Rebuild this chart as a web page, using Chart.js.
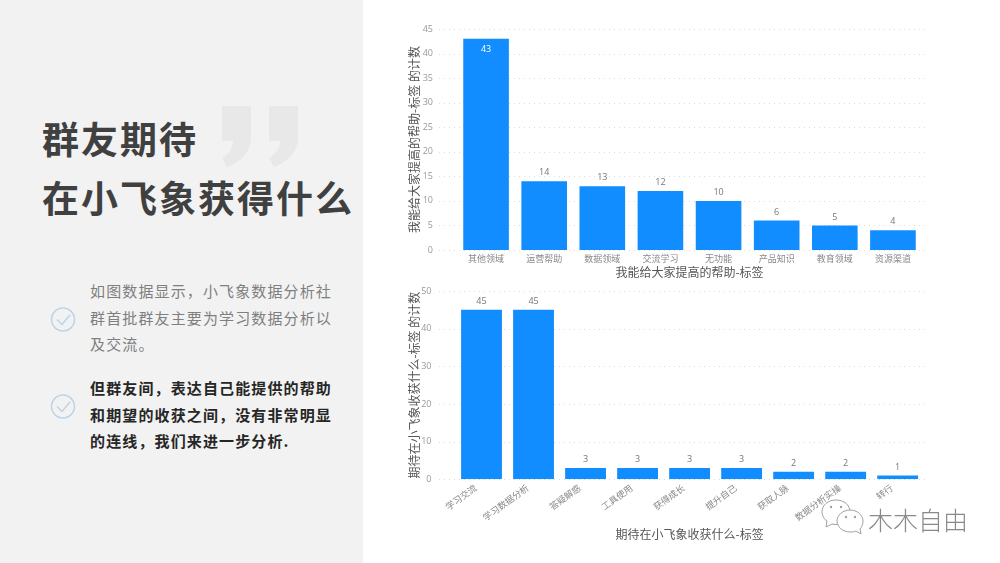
<!DOCTYPE html>
<html lang="zh-CN">
<head>
<meta charset="utf-8">
<title>群友期待在小飞象获得什么</title>
<script src="https://cdn.jsdelivr.net/npm/chart.js@4"></script>
<style>
    html, body { margin: 0; padding: 0; background: #fff; }
    body { position: relative; width: 1000px; height: 563px; overflow: hidden; font-family: "Noto Sans CJK SC", sans-serif; }
    .side { position: absolute; left: 0; top: 0; width: 363px; height: 563px; background: #f2f2f2; }
    .line { position: absolute; white-space: nowrap; }
    .head { left: 42px; font-size: 37px; line-height: 44px; font-weight: 700; color: #404040; letter-spacing: 2px; }
    .body { left: 90px; font-size: 15px; line-height: 22px; letter-spacing: 1.13px; color: #7f7f7f; }
    .strong { font-weight: 700; color: #262626; }
    .mark { position: absolute; left: 0; top: 0; }
    .wm { left: 868px; top: 502px; font-size: 25px; line-height: 34px; font-weight: 300; color: #8a8a8a; text-shadow: 0 0 2px #fff; }
    canvas { position: absolute; }
    #help-chart { left: 400px; top: 20px; }
    #expect-chart { left: 400px; top: 285px; }
</style>
</head>
<body>
<div class="side"></div>

<svg class="mark" width="1000" height="563">
    <!-- closing quote behind the heading -->
    <g fill="#e8e8e8">
        <path d="M222 106H251V138C251 152 240 162 227 167L222 158C229 154 233 148 233 141H222Z"/>
        <path d="M269 106H298V138C298 152 287 162 274 167L269 158C276 154 280 148 280 141H269Z"/>
    </g>
    <g fill="none" stroke="#bcd3e8" stroke-width="1.5">
        <circle cx="63" cy="319.5" r="11.5"/>
        <path d="M57 319.5L62 324.5L70 315"/>
        <circle cx="63" cy="406.5" r="11.5"/>
        <path d="M57 406.5L62 411.5L70 402"/>
    </g>
</svg>

<div class="line head" style="top:116px">群友期待</div>
<div class="line head" style="top:175px">在小飞象获得什么</div>

<div class="line body" style="top:280px">如图数据显示，小飞象数据分析社</div>
<div class="line body" style="top:306.5px">群首批群友主要为学习数据分析以</div>
<div class="line body" style="top:333px">及交流。</div>
<div class="line body strong" style="top:377px">但群友间，表达自己能提供的帮助</div>
<div class="line body strong" style="top:403.5px">和期望的收获之间，没有非常明显</div>
<div class="line body strong" style="top:430px">的连线，我们来进一步分析.</div>

<canvas id="help-chart" width="540" height="265"></canvas>
<canvas id="expect-chart" width="540" height="270"></canvas>

<svg class="mark" width="1000" height="563">
    <!-- WeChat style logo next to the account name -->
    <g fill="#fff" stroke="#a0a0a0" stroke-width="1">
        <path d="M836 500C828 500 822 505 822 512C822 516 824 519 827 521L826 527L832 524C840 526 850 522 850 512C850 505 844 500 836 500Z"/>
        <path d="M850 510C843 510 837 515 837 521C837 527 843 532 850 532C852 532 854 532 856 531L861 534L860 529C862 527 863 524 863 521C863 515 857 510 850 510Z"/>
    </g>
    <g fill="#a0a0a0">
        <circle cx="831" cy="507" r="1.2"/><circle cx="841" cy="507" r="1.2"/>
        <circle cx="846" cy="517" r="1.2"/><circle cx="855" cy="517" r="1.2"/>
    </g>
</svg>

<div class="line wm">木木自由</div>

<script>
const helpLabels = ['其他领域', '运营帮助', '数据领域', '交流学习', '无功能', '产品知识', '教育领域', '资源渠道'];
const helpCounts = [43, 14, 13, 12, 10, 6, 5, 4];
const helpTicks = [0, 5, 10, 15, 20, 25, 30, 35, 40, 45];

const expectLabels = ['学习交流', '学习数据分析', '答疑解惑', '工具使用', '获得成长', '提升自己', '获取人脉', '数据分析实操', '转行'];
const expectCounts = [45, 45, 3, 3, 3, 3, 2, 2, 1];
const expectTicks = [0, 10, 20, 30, 40, 50];

const CJK = '"Noto Sans CJK SC", sans-serif';
const BAR_COLOR = '#118dff';

// dotted grid that runs a little past the plot area on both sides
const dottedGrid = {
    id: 'dottedGrid',
    beforeDatasetsDraw(chart) {
        const { ctx, scales } = chart;
        ctx.save();
        ctx.strokeStyle = '#dcdcdc';
        ctx.lineWidth = 1;
        ctx.setLineDash([1, 4]);
        scales.y.ticks.forEach(function (t) {
            const y = Math.round(scales.y.getPixelForValue(t.value)) + 0.5;
            ctx.beginPath();
            ctx.moveTo(39, y);
            ctx.lineTo(526, y);
            ctx.stroke();
        });
        ctx.restore();
    }
};

// value labels: above the bar, or inside it when the bar nearly reaches the top
const barValues = {
    id: 'barValues',
    afterDatasetsDraw(chart) {
        const { ctx, chartArea } = chart;
        const values = chart.data.datasets[0].data;
        ctx.save();
        ctx.font = '9px "Open Sans", sans-serif';
        ctx.textAlign = 'center';
        ctx.textBaseline = 'middle';
        chart.getDatasetMeta(0).data.forEach(function (bar, i) {
            const inside = bar.y - chartArea.top < 12;
            ctx.fillStyle = inside ? '#ffffff' : '#777777';
            ctx.fillText(values[i], bar.x, inside ? bar.y + 11 : bar.y - 8.5);
        });
        ctx.restore();
    }
};

function barChart(id, cfg) {
    return new Chart(document.getElementById(id).getContext('2d'), {
        type: 'bar',
        data: {
            labels: cfg.labels,
            datasets: [{
                data: cfg.values,
                backgroundColor: BAR_COLOR,
                categoryPercentage: 1,
                barPercentage: 0.785
            }]
        },
        options: {
            responsive: false,
            animation: false,
            layout: { padding: cfg.padding },
            plugins: { legend: { display: false }, tooltip: { enabled: false } },
            scales: {
                x: {
                    grid: { display: false, drawTicks: false, tickLength: 0 },
                    border: { display: false },
                    ticks: {
                        autoSkip: false,
                        color: '#888',
                        font: { family: CJK, size: 9 },
                        padding: cfg.tickPad,
                        labelOffset: cfg.labelOffset,
                        minRotation: cfg.rotation,
                        maxRotation: cfg.rotation
                    },
                    title: {
                        display: true,
                        text: cfg.xTitle,
                        color: '#555',
                        font: { family: CJK, size: 12 },
                        padding: cfg.titlePad
                    },
                    afterFit(s) { s.height = cfg.xHeight; }
                },
                y: {
                    min: 0,
                    max: cfg.ticks[cfg.ticks.length - 1],
                    afterBuildTicks(s) { s.ticks = cfg.ticks.map(v => ({ value: v })); },
                    grid: { display: false, drawTicks: false, tickLength: 0 },
                    border: { display: false },
                    ticks: {
                        color: '#999',
                        font: { family: '"Open Sans", sans-serif', size: 9 },
                        padding: 24
                    },
                    title: {
                        display: true,
                        text: cfg.yTitle,
                        color: '#555',
                        font: { family: CJK, size: 12 },
                        padding: { top: 7, bottom: 0 }
                    },
                    afterFit(s) {
                        s.width = cfg.yWidth;
                        s.paddingTop = 0;
                        s.paddingBottom = 0;
                    }
                }
            }
        },
        plugins: [dottedGrid, barValues]
    });
}

barChart('help-chart', {
    labels: helpLabels,
    values: helpCounts,
    ticks: helpTicks,
    xTitle: '我能给大家提高的帮助-标签',
    yTitle: '我能给大家提高的帮助-标签 的计数',
    rotation: 0,
    tickPad: 3,
    labelOffset: 0,
    titlePad: { top: 0, bottom: 5 },
    padding: { top: 9, right: 18 },
    xHeight: 35,
    yWidth: 57
});

barChart('expect-chart', {
    labels: expectLabels,
    values: expectCounts,
    ticks: expectTicks,
    xTitle: '期待在小飞象收获什么-标签',
    yTitle: '期待在小飞象收获什么-标签 的计数',
    rotation: 36,
    tickPad: 3,
    labelOffset: -6,
    titlePad: { top: 0, bottom: 13 },
    padding: { top: 6, right: 16.3 },
    xHeight: 75.7,
    yWidth: 55.5
});
</script>
</body>
</html>
